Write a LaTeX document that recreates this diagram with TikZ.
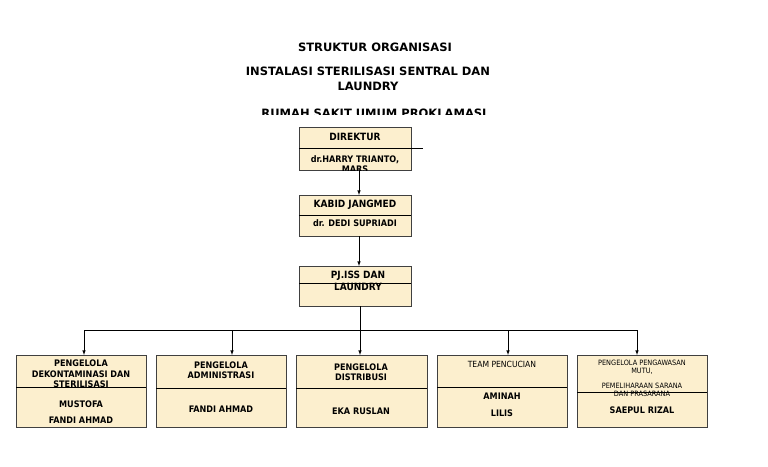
\documentclass[tikz,border=0pt]{standalone}
\usepackage{fontspec}
\setmainfont{DejaVu Sans}
\newfontfamily\cond{DejaVu Sans Condensed}
\begin{document}
\begin{tikzpicture}[x=1pt,y=-1pt,
  bx/.style={draw=black!75,line width=0.9pt,fill=cream},
  tx/.style={font=\cond\bfseries\fontsize{9}{10.5}\selectfont,align=center,inner sep=0},
  ar/.style={-latex,line width=0.6pt}]
\definecolor{cream}{HTML}{FCEFCE}
\useasboundingbox (0,0) rectangle (768,466);
\node[font=\bfseries\fontsize{11.5}{15}\selectfont] (t1) at (375,47) {STRUKTUR ORGANISASI};
\node[font=\bfseries\fontsize{11.5}{15}\selectfont,align=center] (t2) at (368,79) {INSTALASI STERILISASI SENTRAL DAN\\LAUNDRY};
\begin{scope}
\clip (200,100) rectangle (560,114);
\node[font=\bfseries\fontsize{11.5}{15}\selectfont] (t3) at (374,113) {RUMAH SAKIT UMUM PROKLAMASI};
\end{scope}
% top boxes
\draw[bx] (299,127) rectangle (411,170); \draw[line width=0.9pt] (299,148)--(423,148);
\node[tx,font=\cond\bfseries\fontsize{10}{12}\selectfont] (d) at (355,137) {DIREKTUR};
\begin{scope}\clip (299,148) rectangle (411,170);
\node[tx] (dn) at (355,164) {dr.HARRY TRIANTO,\\MARS};\end{scope}
\coordinate (dbot) at (359,170);
\draw[bx] (299,195) rectangle (411,236); \draw[line width=0.9pt] (299,215)--(411,215);
\node[tx,font=\cond\bfseries\fontsize{10}{12}\selectfont] (k) at (355,205) {KABID JANGMED};
\node[tx] (kn) at (355,223) {dr. DEDI SUPRIADI};
\coordinate (ktop) at (359,195); \coordinate (kbot) at (359,236);
\draw[bx] (299,266) rectangle (411,306); \draw[line width=0.9pt] (299,283)--(411,283);
\node[tx,font=\cond\bfseries\fontsize{10}{12}\selectfont] (p) at (358,281) {PJ.ISS DAN\\LAUNDRY};
\coordinate (ptop) at (359,266); \coordinate (pbot) at (360,306);
\draw[ar] (dbot)--(ktop); \draw[ar] (kbot)--(ptop);
\coordinate (j) at (360,330);
\draw[line width=0.6pt] (pbot)--(j); \draw[line width=0.6pt] (84,330)--(637,330);
% bottom boxes
\foreach \xa/\xb/\dv/\c in {16/146/387/84, 156/286/388/232, 296/427/388/360, 437/567/387/508, 577/707/392/637}{
  \draw[bx] (\xa,355) rectangle (\xb,427); \draw[line width=0.9pt] (\xa,\dv)--(\xb,\dv);
  \draw[ar] (\c,330)--(\c,355);}
\node[tx] (b1) at (81,374) {PENGELOLA\\DEKONTAMINASI DAN\\STERILISASI};
\node[tx] (b1n) at (81,412) {MUSTOFA\\[6pt]FANDI AHMAD};
\node[tx] (b2) at (221,370) {PENGELOLA\\ADMINISTRASI};
\node[tx] (b2n) at (221,409) {FANDI AHMAD};
\node[tx] (b3) at (361,372) {PENGELOLA\\DISTRIBUSI};
\node[tx] (b3n) at (361,411) {EKA RUSLAN};
\node[tx,font=\cond\fontsize{8.5}{10}\selectfont] (b4) at (502,364) {TEAM PENCUCIAN};
\node[tx] (b4n) at (502,405) {AMINAH\\[6pt]LILIS};
\node[tx,font=\cond\fontsize{7.3}{8}\selectfont] (b5) at (642,367) {PENGELOLA PENGAWASAN\\MUTU,};
\node[tx,font=\cond\fontsize{7.3}{8}\selectfont] (b5b) at (642,390) {PEMELIHARAAN SARANA\\DAN PRASARANA};
\node[tx] (b5n) at (642,410) {SAEPUL RIZAL};
\end{tikzpicture}
\end{document}
